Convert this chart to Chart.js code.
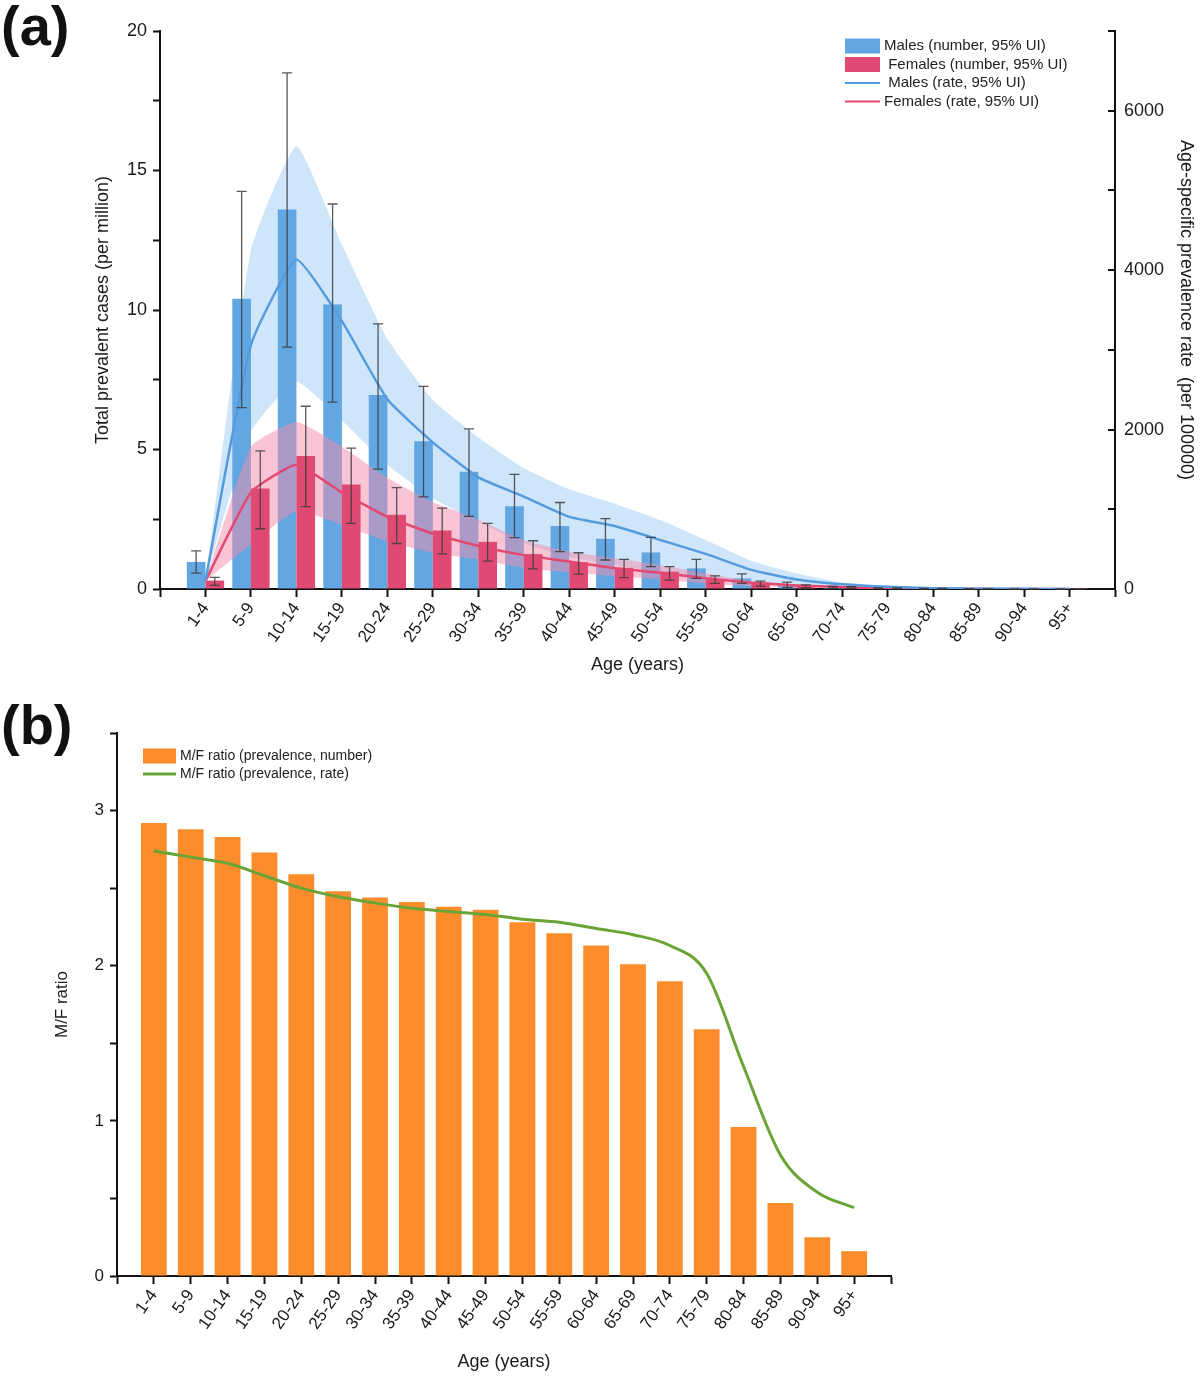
<!DOCTYPE html>
<html>
<head>
<meta charset="utf-8">
<script src="https://cdn.jsdelivr.net/npm/chart.js@4.4.1/dist/chart.umd.min.js"></script>
<style>
  body { margin: 0; background: #fff; width: 1200px; height: 1376px; position: relative; overflow: hidden; font-family: 'Liberation Sans', Arial, sans-serif; }
  .tag { position: absolute; left: 1px; font-weight: bold; font-size: 56px; line-height: 1; color: #111; }
  canvas { position: absolute; left: 0; }
</style>
</head>
<body>
<div class="tag" style="top:-2px">(a)</div>
<div class="tag" style="top:697px">(b)</div>
<canvas id="chartA" width="1200" height="700" style="top:0"></canvas>
<canvas id="chartB" width="1200" height="676" style="top:700px"></canvas>

<script>
// age groups shared by both panels
const ageGroups = ['1-4', '5-9', '10-14', '15-19', '20-24', '25-29', '30-34', '35-39', '40-44', '45-49',
  '50-54', '55-59', '60-64', '65-69', '70-74', '75-79', '80-84', '85-89', '90-94', '95+'];

// panel (a): total prevalent cases (per million), bars + 95% UI
const malesNumber = [0.97, 10.4, 13.6, 10.2, 6.95, 5.3, 4.2, 2.97, 2.26, 1.8, 1.31, 0.74, 0.38, 0.14, 0.05, 0.02, 0.01, 0.005, 0.002, 0.001];
const malesNumberLow = [0.57, 6.5, 8.67, 6.7, 4.3, 3.3, 2.6, 1.84, 1.34, 1.04, 0.8, 0.38, 0.2, 0.06, 0.02, 0.01, 0, 0, 0, 0];
const malesNumberHigh = [1.37, 14.25, 18.5, 13.8, 9.5, 7.26, 5.74, 4.11, 3.1, 2.52, 1.85, 1.06, 0.54, 0.25, 0.09, 0.04, 0.02, 0.01, 0.005, 0.002];
const femalesNumber = [0.3, 3.6, 4.77, 3.75, 2.66, 2.1, 1.69, 1.25, 0.96, 0.76, 0.62, 0.35, 0.2, 0.1, 0.05, 0.02, 0.01, 0.005, 0.002, 0.001];
const femalesNumberLow = [0.13, 2.16, 2.95, 2.35, 1.63, 1.26, 1.0, 0.72, 0.53, 0.41, 0.32, 0.2, 0.1, 0.05, 0.02, 0.01, 0, 0, 0, 0];
const femalesNumberHigh = [0.42, 4.95, 6.55, 5.05, 3.63, 2.9, 2.35, 1.73, 1.3, 1.06, 0.8, 0.47, 0.28, 0.15, 0.08, 0.04, 0.02, 0.01, 0.005, 0.002];

// panel (a): age-specific prevalence rate (per 100000), line + 95% UI band
const malesRate = [105, 3060, 4130, 3360, 2380, 1840, 1400, 1160, 905, 790, 615, 440, 240, 120, 60, 28, 10, 4, 2, 1];
const malesRateLow = [105, 1975, 2600, 2115, 1560, 1140, 840, 575, 405, 300, 215, 135, 70, 35, 18, 7, 3, 1, 0, 0];
const malesRateHigh = [105, 4250, 5550, 4320, 3140, 2370, 1900, 1515, 1250, 1070, 865, 615, 355, 195, 80, 40, 15, 7, 3, 2];
const femalesRate = [100, 1210, 1560, 1210, 905, 695, 540, 425, 345, 260, 205, 135, 80, 45, 25, 10, 4, 2, 1, 0];
const femalesRateLow = [100, 560, 980, 805, 595, 455, 370, 265, 210, 160, 120, 70, 35, 18, 10, 4, 1, 0, 0, 0];
const femalesRateHigh = [100, 1785, 2095, 1785, 1395, 1090, 870, 615, 470, 385, 300, 195, 105, 55, 28, 14, 7, 3, 1, 0];

// panel (b): male / female ratios
const ratioNumber = [2.92, 2.88, 2.83, 2.73, 2.59, 2.48, 2.44, 2.41, 2.38, 2.36, 2.28, 2.21, 2.13, 2.01, 1.90, 1.59, 0.96, 0.47, 0.25, 0.16];
const ratioRate = [2.74, 2.70, 2.66, 2.58, 2.50, 2.445, 2.405, 2.37, 2.35, 2.33, 2.30, 2.28, 2.24, 2.20, 2.13, 1.95, 1.35, 0.78, 0.54, 0.44];

// the axis runs one step past the first and last group, so pad with empty slots
const axisLabels = ['', ...ageGroups, ''];
const pad = arr => [null, ...arr, null];
// bar points placed at their group's index (1..20) on the hidden shifted axes
const atIndex = arr => arr.map((v, i) => ({ x: i + 1, y: v }));

// share of one step taken by each bar of the male/female pair
const BAR_SHARE = 0.41;

Chart.defaults.font.family = "'Liberation Sans', Arial, sans-serif";
Chart.defaults.color = '#1a1a1a';

// whiskers for bar datasets that carry errLow / errHigh
const errorBars = {
  id: 'errorBars',
  afterDatasetsDraw(chart) {
    const ctx = chart.ctx;
    ctx.save();
    ctx.strokeStyle = 'rgba(60,60,60,0.85)';
    ctx.lineWidth = 1.3;
    chart.data.datasets.forEach((ds, i) => {
      if (!ds.errLow) return;
      const meta = chart.getDatasetMeta(i);
      const yScale = chart.scales[meta.yAxisID];
      meta.data.forEach((bar, j) => {
        const lo = ds.errLow[j], hi = ds.errHigh[j];
        if (lo == null || hi == null) return;
        const x = bar.x;
        const y1 = yScale.getPixelForValue(lo), y2 = yScale.getPixelForValue(hi);
        ctx.beginPath();
        ctx.moveTo(x, y1); ctx.lineTo(x, y2);
        ctx.moveTo(x - 5, y1); ctx.lineTo(x + 5, y1);
        ctx.moveTo(x - 5, y2); ctx.lineTo(x + 5, y2);
        ctx.stroke();
      });
    });
    ctx.restore();
  }
};

// legend drawn inside the plot area
const boxLegend = {
  id: 'boxLegend',
  afterDraw(chart, args, opts) {
    if (!opts.items) return;
    const ctx = chart.ctx;
    ctx.save();
    ctx.font = opts.font;
    ctx.textBaseline = 'middle';
    opts.items.forEach((it, i) => {
      const y = opts.y + i * opts.row;
      if (it.kind === 'box') {
        ctx.fillStyle = it.color;
        ctx.fillRect(opts.x, y - opts.boxH / 2, opts.boxW, opts.boxH);
      } else {
        ctx.strokeStyle = it.color;
        ctx.lineWidth = it.width;
        ctx.beginPath();
        ctx.moveTo(opts.x, y); ctx.lineTo(opts.x + opts.boxW, y);
        ctx.stroke();
      }
      ctx.fillStyle = '#222';
      ctx.fillText(it.text, opts.x + opts.boxW + 4, y);
    });
    ctx.restore();
  }
};

// right axis ticks point into the plot
const innerTicks = {
  id: 'innerTicks',
  afterDraw(chart, args, opts) {
    if (!opts.axis) return;
    const s = chart.scales[opts.axis];
    const ctx = chart.ctx;
    ctx.save();
    ctx.strokeStyle = '#111';
    ctx.lineWidth = 2;
    s.ticks.forEach(t => {
      const y = Math.round(s.getPixelForValue(t.value));
      ctx.beginPath();
      ctx.moveTo(s.left, y); ctx.lineTo(s.left - 7, y);
      ctx.stroke();
    });
    ctx.restore();
  }
};

function axisX(height, titlePad) {
  return {
    offset: false,
    grid: { display: true, offset: false, drawOnChartArea: false, tickLength: 8, tickColor: '#111', tickWidth: 2 },
    border: { color: '#111', width: 2 },
    ticks: { autoSkip: false, minRotation: 55, maxRotation: 55, font: { size: 17 }, color: '#1a1a1a', padding: 2 },
    title: { display: true, text: 'Age (years)', font: { size: 18 }, color: '#1a1a1a', padding: { top: 0, bottom: titlePad } },
    afterFit(s) { s.height = height; }
  };
}

// hidden index axis, slid half a bar left (-) or right (+) of the category ticks
function shiftedAxis(dir) {
  const shift = -dir * BAR_SHARE / 2;
  return { type: 'linear', display: false, offset: false, min: 0 + shift, max: axisLabels.length - 1 + shift, ticks: { stepSize: 5 } };
}

function renderPanelA() {
  const ctx = document.getElementById('chartA').getContext('2d');
  new Chart(ctx, {
    type: 'bar',
    data: {
      labels: axisLabels,
      datasets: [
        { type: 'line', label: 'Males rate high', data: pad(malesRateHigh), yAxisID: 'y1', order: 5,
          borderWidth: 0, borderColor: 'rgba(0,0,0,0)', pointRadius: 0, tension: 0.15, fill: '+1', backgroundColor: 'rgba(160,205,245,0.5)' },
        { type: 'line', label: 'Males rate low', data: pad(malesRateLow), yAxisID: 'y1', order: 5,
          borderWidth: 0, borderColor: 'rgba(0,0,0,0)', pointRadius: 0, tension: 0.15, fill: false },
        { label: 'Males (number, 95% UI)', data: atIndex(malesNumber), errLow: malesNumberLow, errHigh: malesNumberHigh,
          backgroundColor: 'rgb(98,166,226)', xAxisID: 'xm', yAxisID: 'y', order: 4, grouped: false,
          categoryPercentage: BAR_SHARE, barPercentage: 1 },
        { type: 'line', label: 'Females rate high', data: pad(femalesRateHigh), yAxisID: 'y1', order: 3,
          borderWidth: 0, borderColor: 'rgba(0,0,0,0)', pointRadius: 0, tension: 0.15, fill: '+1', backgroundColor: 'rgba(244,140,172,0.5)' },
        { type: 'line', label: 'Females rate low', data: pad(femalesRateLow), yAxisID: 'y1', order: 3,
          borderWidth: 0, borderColor: 'rgba(0,0,0,0)', pointRadius: 0, tension: 0.15, fill: false },
        { label: 'Females (number, 95% UI)', data: atIndex(femalesNumber), errLow: femalesNumberLow, errHigh: femalesNumberHigh,
          backgroundColor: 'rgb(224,74,114)', xAxisID: 'xf', yAxisID: 'y', order: 2, grouped: false,
          categoryPercentage: BAR_SHARE, barPercentage: 1 },
        { type: 'line', label: 'Males (rate, 95% UI)', data: pad(malesRate), yAxisID: 'y1', order: 1,
          borderColor: 'rgb(84,156,222)', borderWidth: 2.5, pointRadius: 0, tension: 0.15, fill: false },
        { type: 'line', label: 'Females (rate, 95% UI)', data: pad(femalesRate), yAxisID: 'y1', order: 1,
          borderColor: 'rgb(226,72,112)', borderWidth: 2.5, pointRadius: 0, tension: 0.15, fill: false }
      ]
    },
    options: {
      responsive: false,
      animation: false,
      devicePixelRatio: 1,
      layout: { padding: { top: 31, left: 0, right: 0, bottom: 0 } },
      plugins: {
        legend: { display: false },
        tooltip: { enabled: false },
        innerTicks: { axis: 'y1' },
        boxLegend: {
          x: 845, y: 46, row: 18.5, boxW: 35, boxH: 15, font: "15px 'Liberation Sans', Arial, sans-serif",
          items: [
            { kind: 'box', color: 'rgb(98,166,226)', text: 'Males (number, 95% UI)' },
            { kind: 'box', color: 'rgb(224,74,114)', text: ' Females (number, 95% UI)' },
            { kind: 'line', color: 'rgb(84,156,222)', width: 2, text: ' Males (rate, 95% UI)' },
            { kind: 'line', color: 'rgb(226,72,112)', width: 2, text: 'Females (rate, 95% UI)' }
          ]
        }
      },
      scales: {
        x: axisX(111, 24),
        xm: shiftedAxis(-1),
        xf: shiftedAxis(1),
        y: {
          position: 'left', min: 0, max: 20,
          grid: { display: true, drawOnChartArea: false, tickLength: 7, tickColor: '#111', tickWidth: 2 },
          border: { color: '#111', width: 2 },
          ticks: { stepSize: 2.5, padding: 6, font: { size: 18 }, color: '#1a1a1a',
            callback: v => (v % 5 === 0 ? v : '') },
          title: { display: true, text: 'Total prevalent cases (per million)', font: { size: 18 }, color: '#1a1a1a', padding: { top: 92, bottom: 0 } },
          afterFit(s) { s.width = 160; }
        },
        y1: {
          position: 'right', min: 0, max: 7000,
          grid: { display: true, drawOnChartArea: false, drawTicks: false },
          border: { color: '#111', width: 2 },
          ticks: { stepSize: 1000, padding: 9, font: { size: 18 }, color: '#1a1a1a',
            callback: v => (v % 2000 === 0 ? v : '') },
          title: { display: true, text: 'Age-specific prevalence rate  (per 100000)', font: { size: 18 }, color: '#1a1a1a', padding: { top: 3, bottom: 0 } },
          afterFit(s) { s.width = 85; }
        }
      }
    },
    plugins: [errorBars, boxLegend, innerTicks]
  });
}

function renderPanelB() {
  const ctx = document.getElementById('chartB').getContext('2d');
  new Chart(ctx, {
    type: 'bar',
    data: {
      labels: axisLabels,
      datasets: [
        { label: 'M/F ratio (prevalence, number)', data: pad(ratioNumber), backgroundColor: 'rgb(253,141,44)',
          order: 2, categoryPercentage: 0.7, barPercentage: 1 },
        { type: 'line', label: 'M/F ratio (prevalence, rate)', data: pad(ratioRate), borderColor: 'rgb(106,164,54)',
          borderWidth: 3, pointRadius: 0, cubicInterpolationMode: 'monotone', fill: false, order: 0 }
      ]
    },
    options: {
      responsive: false,
      animation: false,
      devicePixelRatio: 1,
      layout: { padding: { top: 33, left: 0, right: 309, bottom: 0 } },
      plugins: {
        legend: { display: false },
        tooltip: { enabled: false },
        boxLegend: {
          x: 143, y: 56, row: 18, boxW: 33, boxH: 15, font: "14px 'Liberation Sans', Arial, sans-serif",
          items: [
            { kind: 'box', color: 'rgb(253,141,44)', text: 'M/F ratio (prevalence, number)' },
            { kind: 'line', color: 'rgb(106,164,54)', width: 3, text: 'M/F ratio (prevalence, rate)' }
          ]
        }
      },
      scales: {
        x: axisX(100, 3),
        y: {
          position: 'left', min: 0, max: 3.5,
          grid: { display: true, drawOnChartArea: false, tickLength: 7, tickColor: '#111', tickWidth: 2 },
          border: { color: '#111', width: 2 },
          ticks: { stepSize: 0.5, padding: 6, font: { size: 17 }, color: '#1a1a1a',
            callback: v => (Number.isInteger(v) ? v : '') },
          title: { display: true, text: 'M/F ratio', font: { size: 17 }, color: '#1a1a1a', padding: { top: 52, bottom: 0 } },
          afterFit(s) { s.width = 117; }
        }
      }
    },
    plugins: [boxLegend]
  });
}

document.addEventListener('DOMContentLoaded', () => {
  renderPanelA();
  renderPanelB();
});
</script>
</body>
</html>
